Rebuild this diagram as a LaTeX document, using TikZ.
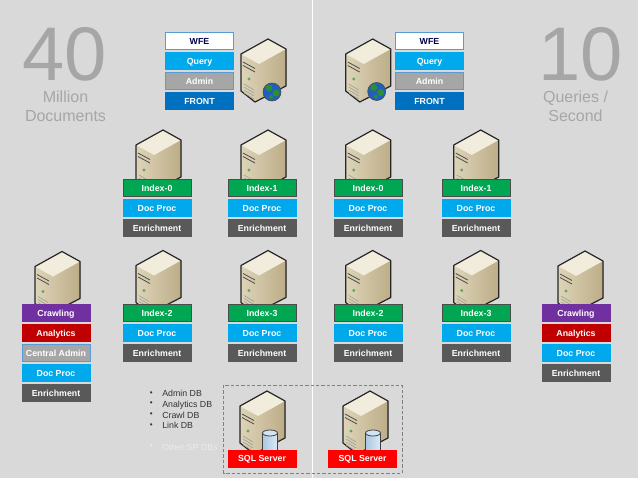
\documentclass[tikz,border=0pt]{standalone}
\usepackage{fontspec}
\setmainfont{Liberation Sans}
\usepackage{tikz}
\usetikzlibrary{positioning}

\definecolor{slide}{HTML}{D9D9D9}
\definecolor{bigtext}{HTML}{A6A6A6}
\definecolor{edgeblue}{HTML}{5B9BD5}
\definecolor{skyblue}{HTML}{00A8EC}
\definecolor{frontblue}{HTML}{0070C0}
\definecolor{indexgreen}{HTML}{00A651}
\definecolor{darkbox}{HTML}{595959}
\definecolor{crawlpurple}{HTML}{7030A0}
\definecolor{darkred}{HTML}{C00000}
\definecolor{creamlight}{HTML}{F1ECDC}
\definecolor{creammid}{HTML}{DDD4B8}
\definecolor{creamdark}{HTML}{BDAD88}
\definecolor{canblue}{HTML}{A9C7E6}
\definecolor{globeblue}{HTML}{1F5FBF}
\definecolor{globegreen}{HTML}{2E8B3A}

\tikzset{
  rolebox/.style={minimum width=51pt,minimum height=13pt,inner sep=0pt,text height=4.8pt,text depth=0pt,
    font=\fontsize{6.6}{8}\selectfont\bfseries,text=white,draw=#1,fill=#1,line width=.4pt},
  wfe/.style={rolebox=white,draw=edgeblue,text=blue!30!black},
  query/.style={rolebox=skyblue},
  adminbox/.style={rolebox=bigtext,draw=edgeblue},
  front/.style={rolebox=frontblue},
  indexbox/.style={rolebox=indexgreen,draw=black!70},
  enrich/.style={rolebox=darkbox},
  crawl/.style={rolebox=crawlpurple},
  analytics/.style={rolebox=darkred},
  sqlbox/.style={rolebox=red},
  bignum/.style={font=\fontsize{57}{57}\selectfont,text=bigtext,inner sep=0pt},
  bigcap/.style={font=\fontsize{12}{14.25}\selectfont,text=bigtext,align=center,inner sep=0pt},
  pics/server/.style={code={
    \fill[left color=creammid,middle color=creamlight,right color=creamdark]
      (-27,15) -- (0,0) -- (18,10) -- (18,47) -- (-13,63) -- (-27,52) -- cycle;
    \fill[creamlight] (-27,15) -- (0,0) -- (18,10) -- (-9,25) -- cycle;
    \draw[black!85,line width=.9pt,line join=round] (-27,15) -- (0,0) -- (18,10) -- (18,47) -- (-13,63) -- (-27,52) -- cycle;
    \foreach \y in {23,26.5}{\draw[black!70,line width=.6pt] (-25,\y) -- (-13,\y+6.5);}
    \fill[green!40!black!60] (-19,40) circle (1.6);
    \foreach \y in {45,48,51,54}{\draw[black!40,line width=.4pt] (-24,\y) -- (-14,\y+6);}
  }},
  pics/globe/.style={code={
    \fill[globeblue] (0,0) circle (9);
    \fill[globegreen] (-3,-4) circle (3.5) (4,1) circle (3.5) (-1,5) circle (2);
    \draw[black!70,line width=.5pt] (0,0) circle (9);
  }},
  pics/dbcan/.style={code={
    \fill[left color=canblue,right color=canblue!40!white] (-7.5,0) -- (-7.5,18) -- (7.5,18) -- (7.5,0) -- cycle;
    \draw[black!75,line width=.6pt] (-7.5,18) -- (-7.5,0) (7.5,0) -- (7.5,18);
    \draw[black!75,line width=.6pt,fill=canblue!50!white] (0,0) ellipse (7.5 and 3);
  }},
  bullets/.style={font=\fontsize{6.6}{8.1}\selectfont,align=left,anchor=west,inner sep=0pt,text=black!80},
  dots/.style={font=\fontsize{6}{8.1}\selectfont,align=left,anchor=west,inner sep=0pt,text=black!80}
}

\begin{document}
\begin{tikzpicture}[x=.75pt,y=-.75pt,node distance=15pt,on grid]
  \useasboundingbox (0,0) rectangle (638,478);
  \fill[slide] (0,0) rectangle (638,478);
  \draw[white,line width=.8pt] (312.5,0) -- (312.5,478);

  % big numbers
  \node[bignum] (forty) at (65,54) {40};
  \node[bigcap] (forty_cap) at (65.5,106.5) {Million\\Documents};
  \node[bignum] (ten) at (581,54) {10};
  \node[bigcap] (ten_cap) at (575.5,106.5) {Queries /\\Second};

  % servers
  \pic at (268,39) {server};
  \pic at (272,92) {globe};
  \pic at (372.7,39) {server};
  \pic at (376.7,91.5) {globe};
  \pic at (163,130) {server};
  \pic at (268,130) {server};
  \pic at (372.7,130) {server};
  \pic at (480.7,130) {server};
  \pic at (62,251.5) {server};
  \pic at (163,250.5) {server};
  \pic at (268,250.5) {server};
  \pic at (372.7,250.5) {server};
  \pic at (480.7,250.5) {server};
  \pic at (585,251) {server};
  \pic at (267,391) {server};
  \pic at (270,433) {dbcan};
  \pic at (370,391) {server};
  \pic at (373,433) {dbcan};

  % front ends
  \node[wfe] (wfe_a) at (199.5,41) {WFE};
  \node[query] (query_a) [below=of wfe_a] {Query};
  \node[adminbox] (admin_a) [below=of query_a] {Admin};
  \node[front] (front_a) [below=of admin_a] {FRONT};
  \node[wfe] (wfe_b) at (429.5,41) {WFE};
  \node[query] (query_b) [below=of wfe_b] {Query};
  \node[adminbox] (admin_b) [below=of query_b] {Admin};
  \node[front] (front_b) [below=of admin_b] {FRONT};

  % first row
  \node[indexbox] (idx0_a) at (157,188) {Index-0};
  \node[query] (proc0_a) [below=of idx0_a] {Doc Proc};
  \node[enrich] (enr0_a) [below=of proc0_a] {Enrichment};
  \node[indexbox] (idx1_a) at (262,188) {Index-1};
  \node[query] (proc1_a) [below=of idx1_a] {Doc Proc};
  \node[enrich] (enr1_a) [below=of proc1_a] {Enrichment};
  \node[indexbox] (idx0_b) at (368,188) {Index-0};
  \node[query] (proc0_b) [below=of idx0_b] {Doc Proc};
  \node[enrich] (enr0_b) [below=of proc0_b] {Enrichment};
  \node[indexbox] (idx1_b) at (476,188) {Index-1};
  \node[query] (proc1_b) [below=of idx1_b] {Doc Proc};
  \node[enrich] (enr1_b) [below=of proc1_b] {Enrichment};

  % second row
  \node[crawl] (crawl_a) at (56,313) {Crawling};
  \node[analytics] (ana_a) [below=of crawl_a] {Analytics};
  \node[adminbox] (central) [below=of ana_a] {Central Admin};
  \node[query] (proc_c) [below=of central] {Doc Proc};
  \node[enrich] (enr_c) [below=of proc_c] {Enrichment};
  \node[indexbox] (idx2_a) at (157,313) {Index-2};
  \node[query] (proc2_a) [below=of idx2_a] {Doc Proc};
  \node[enrich] (enr2_a) [below=of proc2_a] {Enrichment};
  \node[indexbox] (idx3_a) at (262,313) {Index-3};
  \node[query] (proc3_a) [below=of idx3_a] {Doc Proc};
  \node[enrich] (enr3_a) [below=of proc3_a] {Enrichment};
  \node[indexbox] (idx2_b) at (368,313) {Index-2};
  \node[query] (proc2_b) [below=of idx2_b] {Doc Proc};
  \node[enrich] (enr2_b) [below=of proc2_b] {Enrichment};
  \node[indexbox] (idx3_b) at (476,313) {Index-3};
  \node[query] (proc3_b) [below=of idx3_b] {Doc Proc};
  \node[enrich] (enr3_b) [below=of proc3_b] {Enrichment};
  \node[crawl] (crawl_b) at (576,313) {Crawling};
  \node[analytics] (ana_b) [below=of crawl_b] {Analytics};
  \node[query] (proc_d) [below=of ana_b] {Doc Proc};
  \node[enrich] (enr_d) [below=of proc_d] {Enrichment};

  % databases
  \node[sqlbox] (sql_a) at (262,458.7) {SQL Server};
  \node[sqlbox] (sql_b) at (362.5,458.7) {SQL Server};
  \draw[black!50,dash pattern=on 2.5pt off 1.5pt,line width=.6pt] (223.5,385) rectangle (402,473);
  \node[dots] (db_marks) at (149.5,409.5) {•\\•\\•\\•};
  \node[bullets] (db_list) at (162,409.5) {Admin DB\\Analytics DB\\Crawl DB\\Link DB};
  \node[dots,text=white!92!black] (db_mark_other) at (149.5,447) {•};
  \node[bullets,text=white!92!black] (db_other) at (162,447) {Other SP DBs};
\end{tikzpicture}
\end{document}
